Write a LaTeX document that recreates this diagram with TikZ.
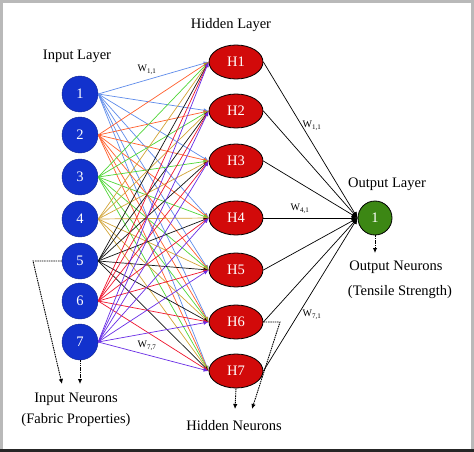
\documentclass[tikz,border=0pt]{standalone}
\usepackage{fontspec}
\setmainfont{Liberation Serif}
\usetikzlibrary{arrows.meta,shapes.geometric}
\definecolor{inblue}{RGB}{18,50,205}
\definecolor{hidred}{RGB}{210,10,10}
\definecolor{outgreen}{RGB}{60,135,20}
\definecolor{cA}{RGB}{95,140,235}
\definecolor{cB}{RGB}{255,95,45}
\definecolor{cC}{RGB}{80,215,55}
\definecolor{cD}{RGB}{210,165,55}
\definecolor{cE}{RGB}{20,20,20}
\definecolor{cF}{RGB}{240,20,45}
\definecolor{cG}{RGB}{105,45,230}
\definecolor{framegray}{RGB}{185,185,185}
\begin{document}
\begin{tikzpicture}[x=1pt,y=-1pt,
  innode/.style={circle,fill=inblue,draw=inblue!70!black,line width=0.4pt,minimum size=36pt,inner sep=0pt,text=white,font=\fontsize{14.5}{14}\selectfont},
  hidnode/.style={ellipse,fill=hidred,draw=black,line width=0.8pt,minimum width=54pt,minimum height=34pt,inner sep=0pt,text=white,font=\fontsize{14.5}{14}\selectfont},
  outnode/.style={circle,fill=outgreen,draw=black,line width=0.8pt,minimum size=34pt,inner sep=0pt,text=white,font=\fontsize{14.5}{14}\selectfont},
  lbl/.style={font=\fontsize{14.5}{16}\selectfont,inner sep=0pt},
  wlbl/.style={font=\fontsize{10}{10}\selectfont,inner sep=0pt},
  wedge/.style={line width=0.7pt,-{Latex[length=5pt,width=4pt]}},
  oedge/.style={line width=0.7pt,black,-{Latex[length=6pt,width=5pt]}},
  dotarrow/.style={line width=0.9pt,black,dash pattern=on 1.5pt off 0.8pt,-{Latex[length=5pt,width=4.5pt]}}
]
\useasboundingbox (0,0) rectangle (474,452);
\fill[framegray] (0,0) rectangle (474,452);
\fill[white] (3,3) rectangle (471,449);
\fill[black!85] (0,449) rectangle (474,452);

% input nodes
\foreach \i/\y in {1/94,2/135,3/177,4/219,5/261,6/301,7/342}
  \node[innode] (i\i) at (80,\y) {\i};
% hidden nodes
\foreach \j/\y in {1/62,2/111,3/161,4/218,5/270,6/322,7/371}
  \node[hidnode] (h\j) at (236,\y) {H\j};
% output node
\node[outnode] (o) at (375,218) {1};

% input to hidden connections
\foreach \i/\c in {1/cA,2/cB,3/cC,4/cD,5/cE,6/cF,7/cG}
  \foreach \j in {1,...,7}
    \draw[wedge,\c] (i\i.east) -- (h\j.west);

% hidden to output
\foreach \j in {1,...,7}
  \draw[oedge] (h\j.east) -- (o.west);

% labels
\node[lbl] (tin) at (77,56) {Input Layer};
\node[lbl] (thid) at (231,25) {Hidden Layer};
\node[lbl] (tout) at (387,184) {Output Layer};
\node[wlbl] (w11a) at (147,70) {W\textsubscript{1,1}};
\node[wlbl] (w11b) at (312,126) {W\textsubscript{1,1}};
\node[wlbl] (w41) at (300,209) {W\textsubscript{4,1}};
\node[wlbl] (w71) at (312,315) {W\textsubscript{7,1}};
\node[wlbl] (w77) at (147,346) {W\textsubscript{7,7}};
\node[lbl] (tinn) at (76,399) {Input Neurons};
\node[lbl] (tfab) at (76,420) {(Fabric Properties)};
\node[lbl] (thn) at (234,426) {Hidden Neurons};
\node[lbl] (ton) at (396,267) {Output Neurons};
\node[lbl] (tts) at (400,292) {(Tensile Strength)};

% dotted pointer arrows
\coordinate (a1) at (33,261);
\coordinate (a2) at (62,384);
\coordinate (a3) at (80,384);
\draw[dotarrow] (i5.west) -- (a1) -- (a2);
\draw[dotarrow] (i7.south) -- (a3);
\coordinate (b1) at (280,322);
\coordinate (b2) at (252,409);
\coordinate (b3) at (235,409);
\draw[dotarrow] (h6.east) -- (b1) -- (b2);
\draw[dotarrow] (h7.south) -- (b3);
\coordinate (c1) at (375,253);
\draw[dotarrow] (o.south) -- (c1);
\end{tikzpicture}
\end{document}
